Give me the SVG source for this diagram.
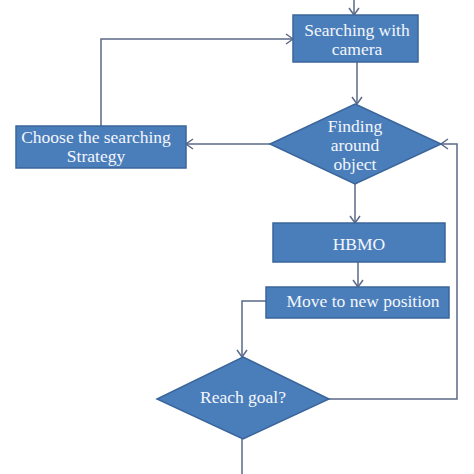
<svg xmlns="http://www.w3.org/2000/svg" width="474" height="474" viewBox="0 0 474 474">
<style>
.n{fill:#4a7ebb;stroke:#3a659b;stroke-width:1.5}
.t{fill:#f4f6fb;font-family:"Liberation Serif","DejaVu Serif",serif;font-size:17.5px;text-anchor:middle}
.c{fill:none;stroke:#5b6a88;stroke-width:1.5}
</style>
<defs>
<marker id="a" markerWidth="12" markerHeight="12" refX="10" refY="6" orient="auto" markerUnits="userSpaceOnUse">
<path d="M3,1 L10,6 L3,11" fill="none" stroke="#5b6a88" stroke-width="1.5"/>
</marker>
</defs>
<rect width="474" height="474" fill="#fff"/>
<g id="connectors">
<path class="c" d="M354,0 V15" marker-end="url(#a)"/>
<path class="c" d="M357,62 V104" marker-end="url(#a)"/>
<path class="c" d="M270,144 H186" marker-end="url(#a)"/>
<path class="c" d="M101,126 V39 H293" marker-end="url(#a)"/>
<path class="c" d="M355,184 V223" marker-end="url(#a)"/>
<path class="c" d="M358,262 V287" marker-end="url(#a)"/>
<path class="c" d="M266,301 H242 V357" marker-end="url(#a)"/>
<path class="c" d="M329,399 H457 V144 H441" marker-end="url(#a)"/>
<path class="c" d="M242,439 V474"/>
</g>
<g id="camera">
<rect class="n" x="293" y="15" width="125" height="47"/>
<text class="t" x="357" y="35.5"><tspan x="357">Searching with</tspan><tspan x="357" dy="19">camera</tspan></text>
</g>
<g id="finding">
<polygon class="n" points="355,104 441,144 355,184 270,144"/>
<text class="t" x="355" y="132"><tspan x="355">Finding</tspan><tspan x="355" dy="19">around</tspan><tspan x="355" dy="19">object</tspan></text>
</g>
<g id="choose">
<rect class="n" x="16" y="126" width="170" height="42"/>
<text class="t" x="96" y="143"><tspan x="96">Choose the searching</tspan><tspan x="96" dy="19">Strategy</tspan></text>
</g>
<g id="hbmo">
<rect class="n" x="273" y="223" width="172" height="39"/>
<text class="t" x="359" y="250">HBMO</text>
</g>
<g id="move">
<rect class="n" x="266" y="287" width="183" height="31"/>
<text class="t" x="363" y="307">Move to new position</text>
</g>
<g id="reach">
<polygon class="n" points="243,357 329,399 243,439 157,399"/>
<text class="t" x="243" y="403">Reach goal?</text>
</g>
</svg>
